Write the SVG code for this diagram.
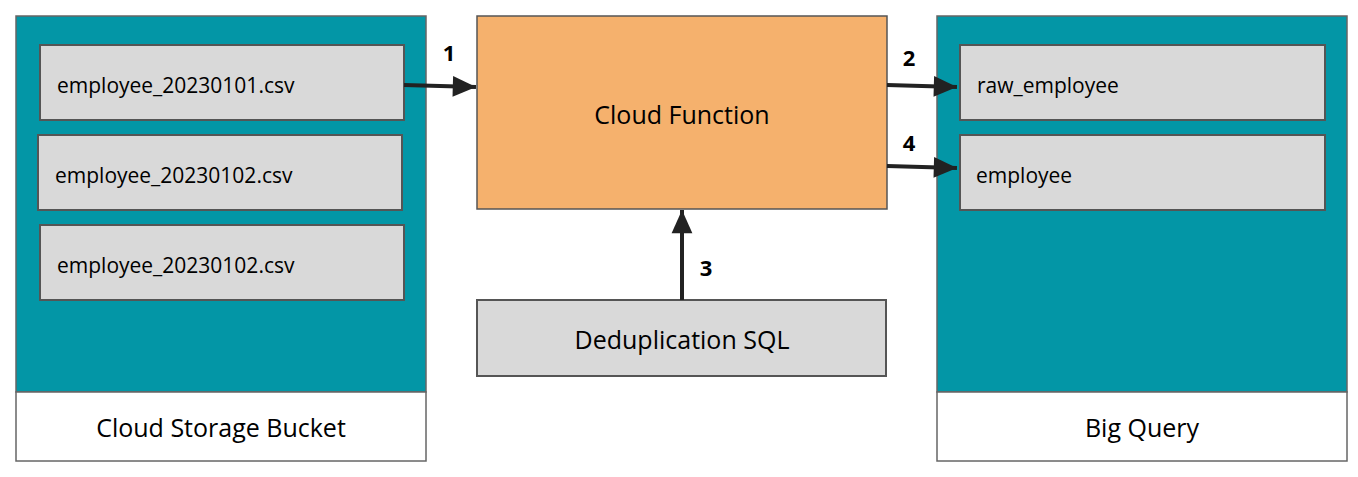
<svg xmlns="http://www.w3.org/2000/svg" width="1358" height="477" viewBox="0 0 1358 477">
<style>
text{font-family:"Open Sans","Noto Sans",sans-serif;fill:#000}
.teal{fill:#0396A6;stroke:#666;stroke-width:1.5}
.wh{fill:#fff;stroke:#666;stroke-width:1.5}
.g{fill:#D9D9D9;stroke:#555;stroke-width:2}
.c{stroke:#222;stroke-width:4;fill:none;marker-end:url(#a)}
.n{font-weight:bold;font-size:22px}
</style>
<defs><marker id="a" viewBox="0 0 10 10" refX="9" refY="5" markerWidth="8" markerHeight="8" markerUnits="userSpaceOnUse" orient="auto" style="overflow:visible"><path d="M-20,-8 L9,5 L-20,18 Z" transform="scale(1)" fill="#222"/></marker></defs>
<rect width="1358" height="477" fill="#fff"/>
<g id="bucket"><rect class="teal" x="16" y="16" width="410" height="376"/><rect class="wh" x="16" y="392" width="410" height="69"/><text x="221" y="437" font-size="25" text-anchor="middle">Cloud Storage Bucket</text></g>
<g id="f1"><rect class="g" x="40" y="45" width="364" height="75"/><text x="57" y="93" font-size="21">employee_20230101.csv</text></g>
<g id="f2"><rect class="g" x="38" y="135" width="364" height="75"/><text x="55" y="183" font-size="21">employee_20230102.csv</text></g>
<g id="f3"><rect class="g" x="40" y="225" width="364" height="75"/><text x="57" y="273" font-size="21">employee_20230102.csv</text></g>
<g id="cf"><rect x="477" y="16" width="410" height="193" fill="#F5B16D" stroke="#555" stroke-width="1.5"/><text x="682" y="124" font-size="25" text-anchor="middle">Cloud Function</text></g>
<g id="sql"><rect class="g" x="477" y="300" width="409" height="76"/><text x="682" y="349" font-size="25" text-anchor="middle">Deduplication SQL</text></g>
<g id="bq"><rect class="teal" x="937" y="16" width="410" height="376"/><rect class="wh" x="937" y="392" width="410" height="69"/><text x="1142" y="437" font-size="25" text-anchor="middle">Big Query</text></g>
<g id="raw"><rect class="g" x="960" y="45" width="365" height="75"/><text x="977" y="93" font-size="21">raw_employee</text></g>
<g id="emp"><rect class="g" x="960" y="135" width="365" height="75"/><text x="976" y="183" font-size="21">employee</text></g>
<g id="connectors">
<line class="c" x1="404" y1="85" x2="476" y2="87"/>
<line class="c" x1="887" y1="85" x2="957" y2="87"/>
<line class="c" x1="887" y1="166" x2="957" y2="168"/>
<line class="c" x1="682" y1="300" x2="682" y2="210"/>
<text class="n" x="449" y="61" text-anchor="middle">1</text>
<text class="n" x="909" y="66" text-anchor="middle">2</text>
<text class="n" x="706" y="276" text-anchor="middle">3</text>
<text class="n" x="909" y="151" text-anchor="middle">4</text>
</g>
</svg>
